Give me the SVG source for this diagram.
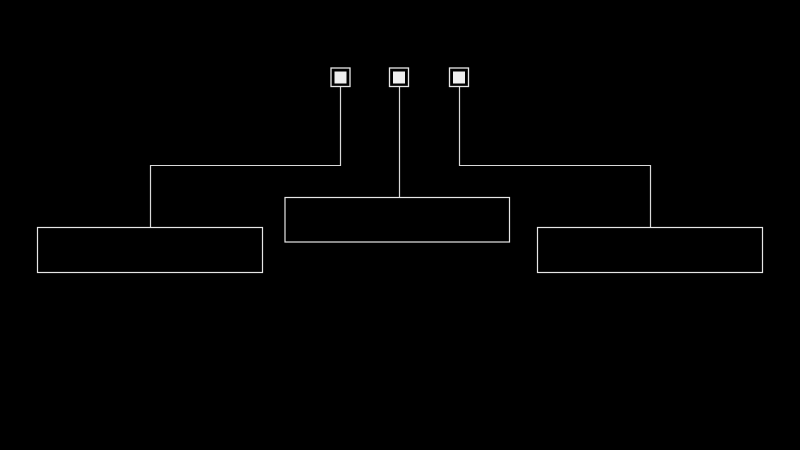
<svg xmlns="http://www.w3.org/2000/svg" width="800" height="450" viewBox="0 0 800 450">
<style>
.box{fill:none;stroke:#e6e6e6;stroke-width:1.2}
.wire{fill:none;stroke:#d9d9d9;stroke-width:1.2}
.sq{fill:none;stroke:#e6e6e6;stroke-width:1.3}
.dot{fill:#f0f0f0}
</style>
<rect width="800" height="450" fill="#000"/>
<g id="connectors">
<polyline class="wire" points="150.5,227.5 150.5,165.5 340.5,165.5 340.5,86.5"/>
<polyline class="wire" points="399.5,197.5 399.5,86.5"/>
<polyline class="wire" points="650.5,227.5 650.5,165.5 459.5,165.5 459.5,86.5"/>
</g>
<g id="terminal-1"><rect class="sq" x="331" y="68" width="19" height="18.5"/><rect class="dot" x="334.5" y="71.5" width="12" height="12"/></g>
<g id="terminal-2"><rect class="sq" x="389.5" y="68" width="19" height="18.5"/><rect class="dot" x="393" y="71.5" width="12" height="12"/></g>
<g id="terminal-3"><rect class="sq" x="449.5" y="68" width="19" height="18.5"/><rect class="dot" x="453" y="71.5" width="12" height="12"/></g>
<g id="box-left"><rect class="box" x="37.5" y="227.5" width="225" height="45"/></g>
<g id="box-center"><rect class="box" x="285" y="197.5" width="224.5" height="44.5"/></g>
<g id="box-right"><rect class="box" x="537.5" y="227.5" width="225" height="45"/></g>
</svg>
